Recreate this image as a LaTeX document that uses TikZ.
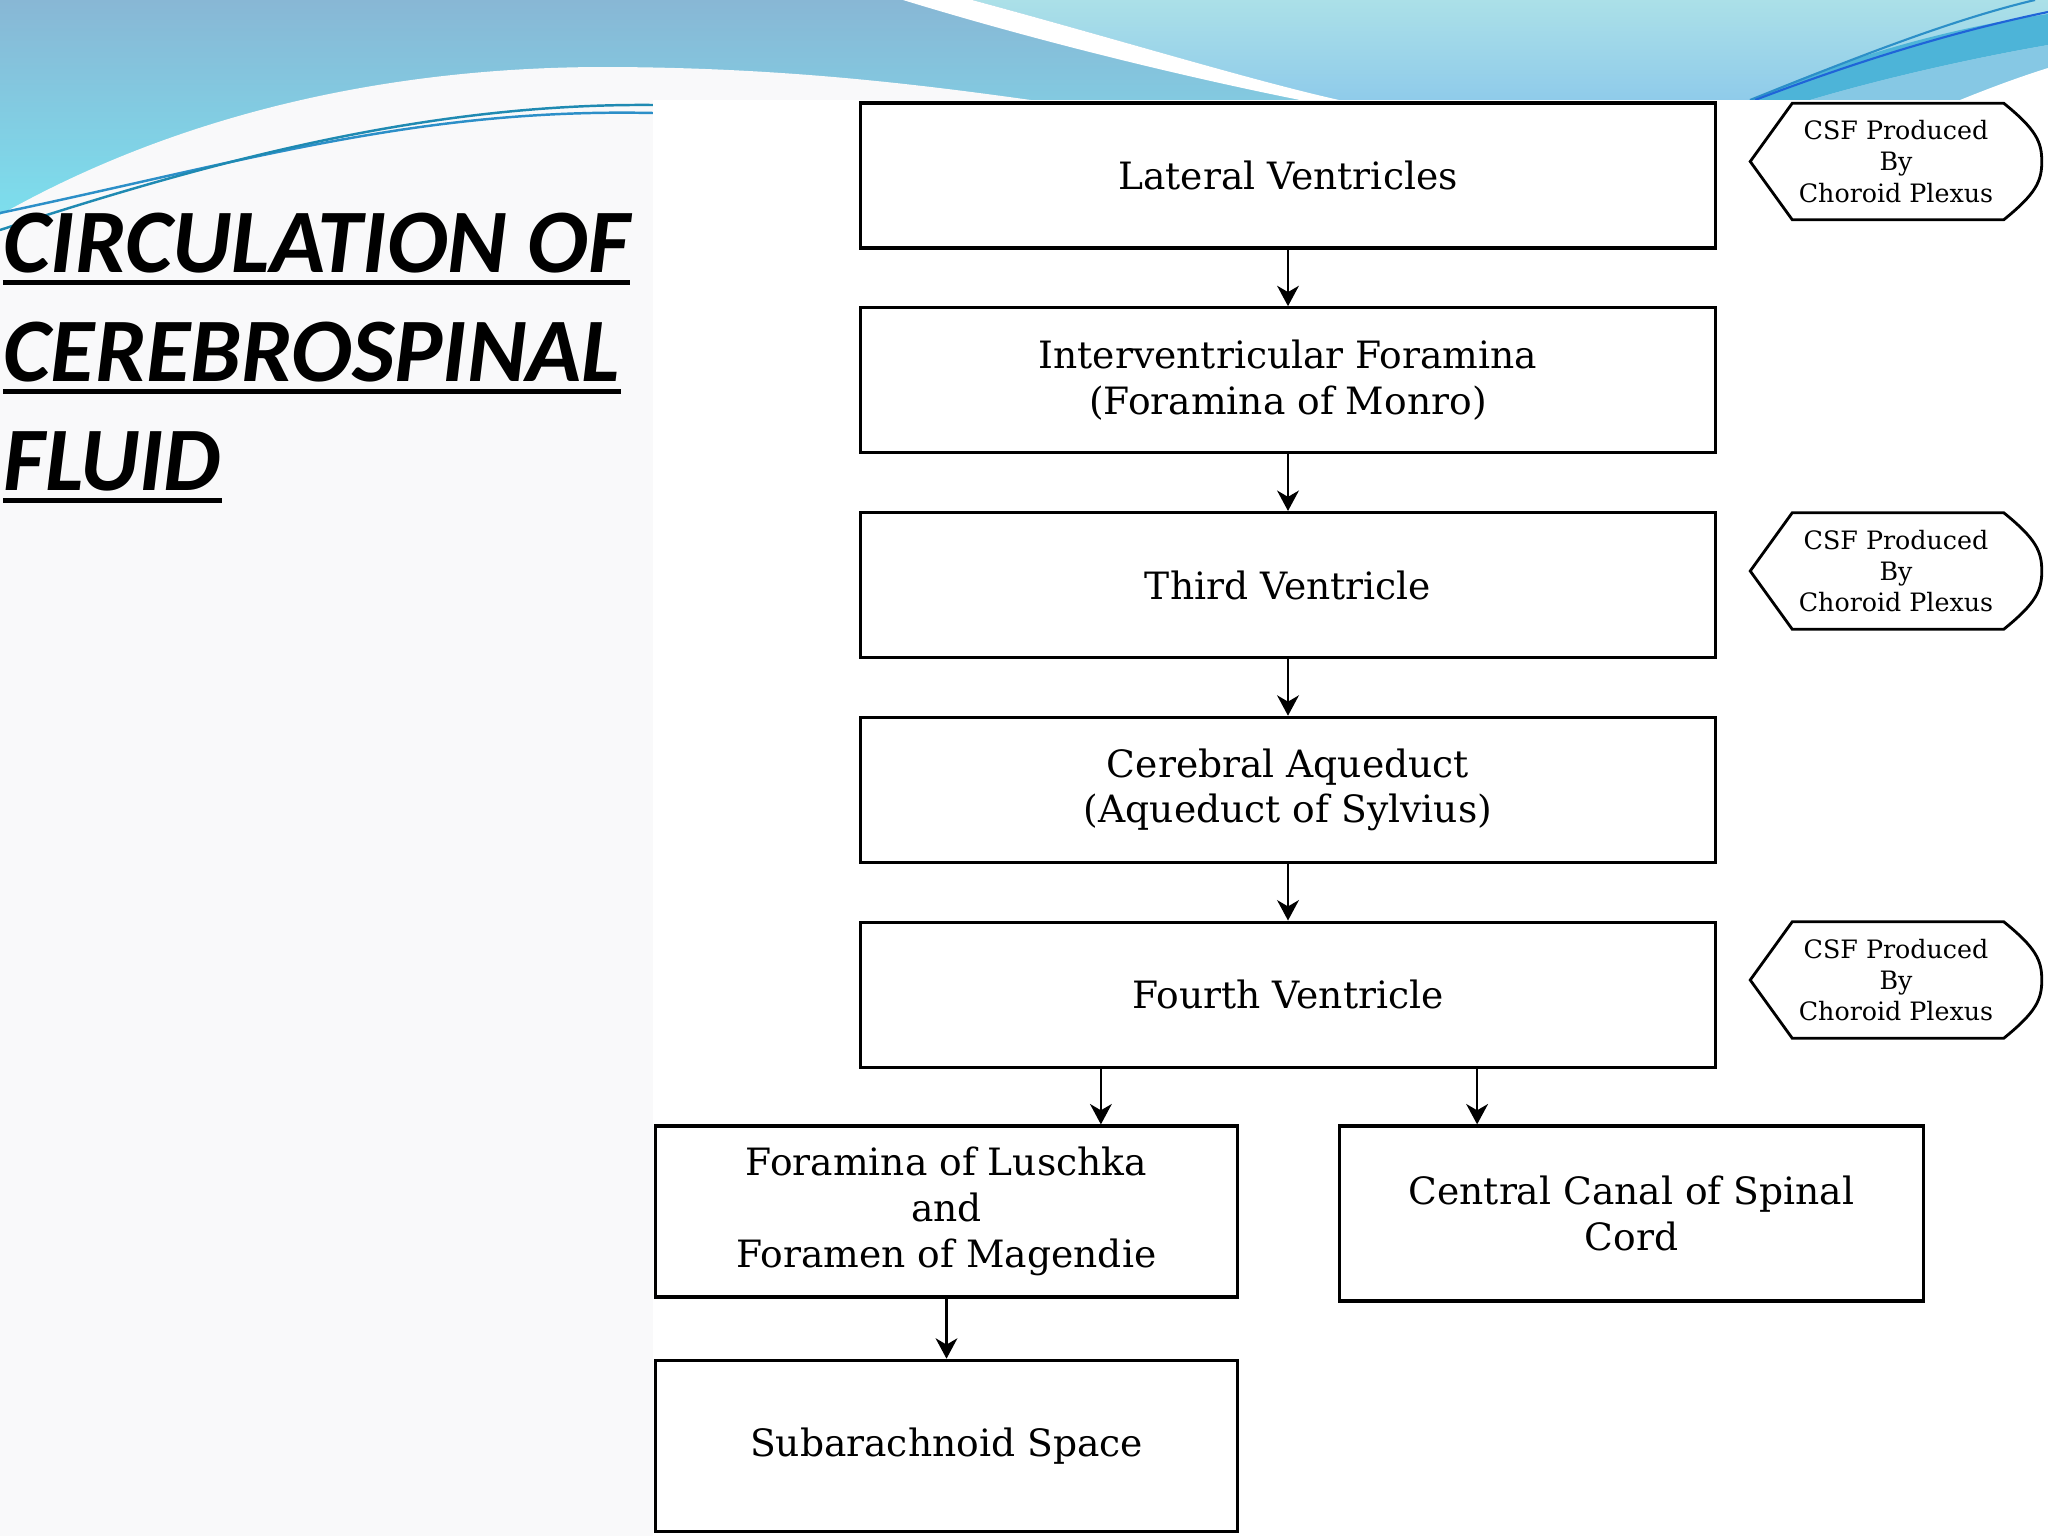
\documentclass[tikz,border=0pt]{standalone}
\usepackage{fontspec}
\setmainfont{DejaVu Serif}
\newfontfamily\titlefont{Carlito}
\usetikzlibrary{arrows.meta,positioning}

\definecolor{slidegray}{HTML}{F9F9FA}
\definecolor{bandtop}{HTML}{88B7D5}
\definecolor{bandcyan}{HTML}{7BE3F0}
\definecolor{skytop}{HTML}{ABE0E8}
\definecolor{skybot}{HTML}{8FCBEA}
\definecolor{band}{HTML}{4DB4D8}
\definecolor{bandlight}{HTML}{86C8E4}
\definecolor{swirl}{HTML}{2C8FC8}

\begin{document}
\begin{tikzpicture}[x=0.01cm,y=-0.01cm,>={Stealth[length=5.8pt,width=6.2pt,inset=1.8pt]},
    box/.style={draw,line width=0.9pt,fill=white,minimum width=8.54cm,minimum height=1.45cm,
        align=center,font=\fontsize{10.7}{13}\selectfont},
    csf/.style={align=center,inner sep=0pt,minimum width=2.9cm,minimum height=1.15cm,
        font=\fontsize{7.2}{8.9}\selectfont},
    heading/.style={anchor=base west,inner sep=0pt,
        font=\titlefont\fontsize{25.8}{30}\bfseries\itshape\selectfont},
    arr/.style={->,line width=0.65pt},
    node distance=0.565cm]
    \useasboundingbox (0,0) rectangle (2048,1536);

    % slide background
    \fill[slidegray] (0,0) rectangle (2048,1536);
    \shade[top color=bandtop,bottom color=bandcyan] (0,0) rectangle (1400,240);
    \fill[slidegray] (0,215) .. controls (150,130) and (350,68) .. (600,67)
        .. controls (800,67) and (950,88) .. (1100,110) -- (1100,250) -- (0,250) -- cycle;
    \shade[top color=skytop,bottom color=skybot] (972,0) .. controls (1120,40) and (1250,80) .. (1339,100)
        -- (2048,100) -- (2048,0) -- cycle;
    \fill[white] (903,0) .. controls (1050,45) and (1200,80) .. (1300,100) -- (1339,100)
        .. controls (1250,80) and (1120,40) .. (972,0) -- cycle;
    \fill[band] (1750,100) .. controls (1850,55) and (1950,28) .. (2048,14) -- (2048,45)
        .. controls (1950,62) and (1860,85) .. (1810,100) -- cycle;
    \fill[bandlight] (1810,100) .. controls (1860,85) and (1950,62) .. (2048,45) -- (2048,68)
        .. controls (2010,80) and (1980,92) .. (1960,100) -- cycle;
    \fill[white] (1960,100) .. controls (1980,92) and (2010,80) .. (2048,68) -- (2048,100) -- cycle;
    \draw[swirl,line width=0.6pt] (1750,100) .. controls (1850,60) and (1950,20) .. (2035,0);
    \draw[swirl!70!blue,line width=0.6pt] (1755,100) .. controls (1860,60) and (1960,30) .. (2048,12);
    \draw[swirl,line width=0.7pt] (0,213) .. controls (250,160) and (420,108) .. (653,113);
    \draw[swirl!70!teal,line width=0.7pt] (0,230) .. controls (200,165) and (420,103) .. (653,105);
    \fill[white] (653,100) rectangle (2048,1536);

    % title
    \node[heading] (t1) at (3,272) {CIRCULATION OF};
    \node[heading] (t2) at (3,381) {CEREBROSPINAL};
    \node[heading] (t3) at (3,490) {FLUID};
    \foreach \t in {t1,t2,t3}
        \draw[line width=1.4pt] ([yshift=-3pt]\t.base west) -- ([yshift=-3pt]\t.base east);

    % flow
    \node[box] (lat) at (1288,175.5) {Lateral Ventricles};
    \node[box,below=of lat] (ivf) {Interventricular Foramina\\(Foramina of Monro)};
    \node[box,below=of ivf] (tv) {Third Ventricle};
    \node[box,below=of tv] (ca) {Cerebral Aqueduct\\(Aqueduct of Sylvius)};
    \node[box,below=of ca] (fv) {Fourth Ventricle};
    \node[box,minimum width=5.81cm,minimum height=1.71cm] (lus) at (946.5,1211.5)
        {Foramina of Luschka\\and\\Foramen of Magendie};
    \node[box,minimum width=5.83cm,minimum height=1.75cm] (cc) at (1631.5,1213.5)
        {Central Canal of Spinal\\Cord};
    \node[box,minimum width=5.81cm,minimum height=1.71cm,below=0.6cm of lus] (sas) {Subarachnoid Space};

    \foreach \a/\b in {lat/ivf,ivf/tv,tv/ca,ca/fv,lus/sas}
        \draw[arr] (\a) -- (\b);
    \draw[arr] ([xshift=-1.87cm]fv.south) -- ([xshift=-1.87cm]fv.south |- lus.north);
    \draw[arr] ([xshift=1.89cm]fv.south) -- ([xshift=1.89cm]fv.south |- cc.north);

    % choroid plexus notes
    \node[csf] (csfA) at (1896,161.5) {CSF Produced\\By\\Choroid Plexus};
    \node[csf] (csfB) at (1896,571) {CSF Produced\\By\\Choroid Plexus};
    \node[csf] (csfC) at (1896,980) {CSF Produced\\By\\Choroid Plexus};
    \foreach \c in {csfA,csfB,csfC}
        \draw[line width=0.8pt] (\c.west) -- ([xshift=0.42cm]\c.north west) -- ([xshift=-0.38cm]\c.north east)
            .. controls ([xshift=-0.06cm,yshift=-0.26cm]\c.north east) and ([yshift=0.2cm]\c.east) .. (\c.east)
            .. controls ([yshift=-0.2cm]\c.east) and ([xshift=-0.06cm,yshift=0.26cm]\c.south east)
            .. ([xshift=-0.38cm]\c.south east) -- ([xshift=0.42cm]\c.south west) -- cycle;
\end{tikzpicture}
\end{document}
